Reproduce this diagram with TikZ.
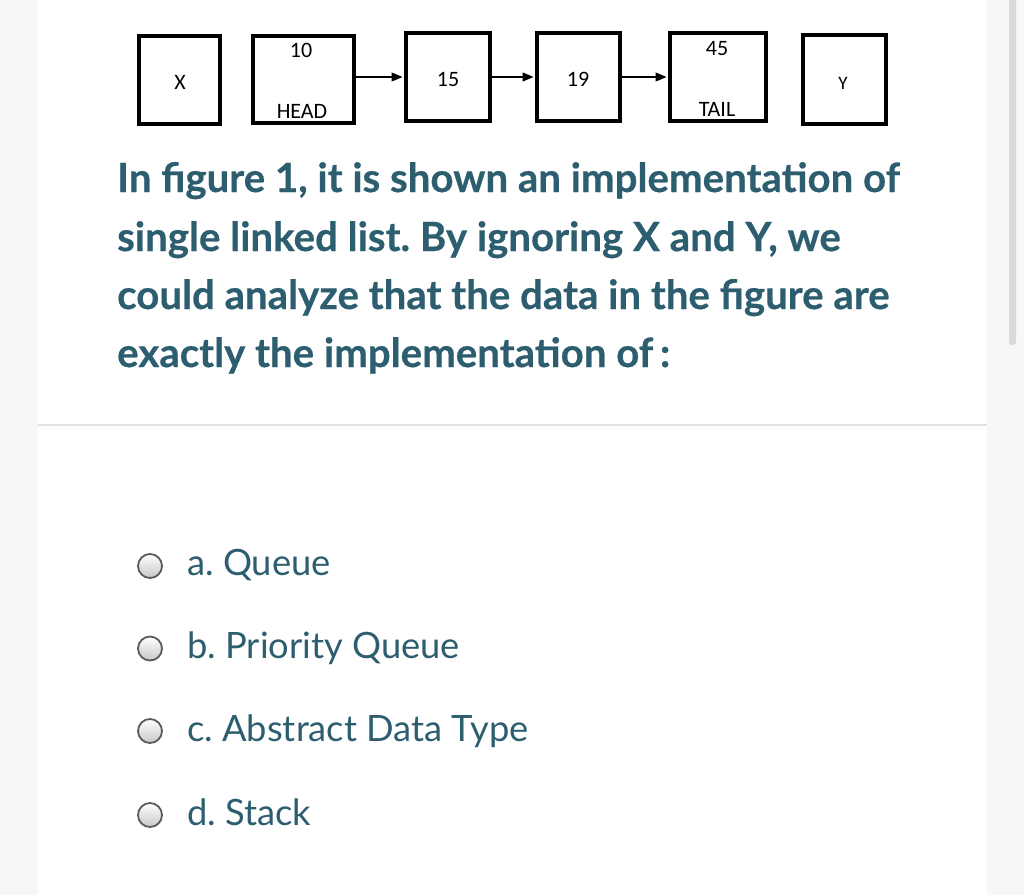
\documentclass[tikz,border=0pt]{standalone}
\usepackage{fontspec}
\setmainfont{Lato}
\newfontfamily\heavyfont[BoldFeatures={FakeBold=0.5}]{Lato}
\newfontfamily\calibrifont{Carlito}
\usetikzlibrary{arrows.meta}
\frenchspacing
\definecolor{qtext}{HTML}{2D5E70}
\definecolor{pagegray}{HTML}{F7F7F7}
\definecolor{sepgray}{HTML}{E3E3E3}
\definecolor{scrollgray}{HTML}{DADADA}
\definecolor{radioedge}{HTML}{5A5A5A}
\tikzset{
  listbox/.style={draw=black, line width=4pt, rectangle, inner sep=0pt},
  boxlabel/.style={font=\calibrifont\fontsize{22}{26}\selectfont, inner sep=0pt, text=black},
  link/.style={line width=1.2pt, -{Triangle[length=11pt,width=9pt]}, shorten >=1.5pt},
  qline/.style={anchor=base west, inner sep=0pt, text=qtext, font=\heavyfont\bfseries\fontsize{40.2}{46}\selectfont},
  optline/.style={anchor=base west, inner sep=0pt, text=qtext, font=\fontsize{36.3}{40}\selectfont},
  radio/.style={circle, draw=radioedge, line width=1.8pt, minimum size=24pt, inner sep=0pt, top color=white, bottom color=black!22}
}
\begin{document}
\begin{tikzpicture}[x=1pt,y=-1pt]
\useasboundingbox (0,0) rectangle (1024,895);
\fill[pagegray] (0,0) rectangle (1024,895);
\fill[white] (38,0) rectangle (987,895);
\draw[sepgray, line width=2.5pt] (38,425) -- (987,425);
\fill[scrollgray, rounded corners=3pt] (1009,-6) rectangle (1016,345);

% linked list boxes
\node[listbox, minimum width=81pt, minimum height=88pt] (bx) at (179.5,80) {};
\node[listbox, minimum width=101pt, minimum height=87pt] (bhead) at (303.5,79.5) {};
\node[listbox, minimum width=84pt, minimum height=88pt] (b15) at (448,77) {};
\node[listbox, minimum width=83pt, minimum height=88pt] (b19) at (578.5,77) {};
\node[listbox, minimum width=96pt, minimum height=88pt] (btail) at (718,77) {};
\node[listbox, minimum width=83pt, minimum height=89pt] (by) at (844.5,79.5) {};

\node[boxlabel] (tx) at (180,82) {X};
\node[boxlabel] (t10) at (301,50) {10};
\node[boxlabel] (thead) at (302,111) {HEAD};
\node[boxlabel] (t15) at (448,79) {15};
\node[boxlabel] (t19) at (578,79) {19};
\node[boxlabel] (t45) at (717,49) {45};
\node[boxlabel] (ttail) at (717,109) {TAIL};
\node[boxlabel, font=\calibrifont\fontsize{19}{22}\selectfont] (ty) at (843,83) {Y};

\draw[link] (b15.west -| bhead.east) -- (b15.west);
\draw[link] (b15.east) -- (b19.west);
\draw[link] (b19.east) -- (btail.west);

% question
\node[qline] (q1) at (117,192) {In figure 1, it is shown an implementation of};
\node[qline] (q2) at (117,251) {single linked list. By ignoring X and Y, we};
\node[qline] (q3) at (117,309) {could analyze that the data in the figure are};
\node[qline] (q4) at (117,367) {exactly the implementation of\,:};

% options
\node[radio] (ra) at (150,566) {};
\node[radio] (rb) at (150,648.5) {};
\node[radio] (rc) at (150,731) {};
\node[radio] (rd) at (150,815) {};
\node[optline] (oa) at (187,575) {a. Queue};
\node[optline] (ob) at (187,658) {b. Priority Queue};
\node[optline] (oc) at (187,741) {c. Abstract Data Type};
\node[optline] (od) at (187,825) {d. Stack};
\end{tikzpicture}
\end{document}
